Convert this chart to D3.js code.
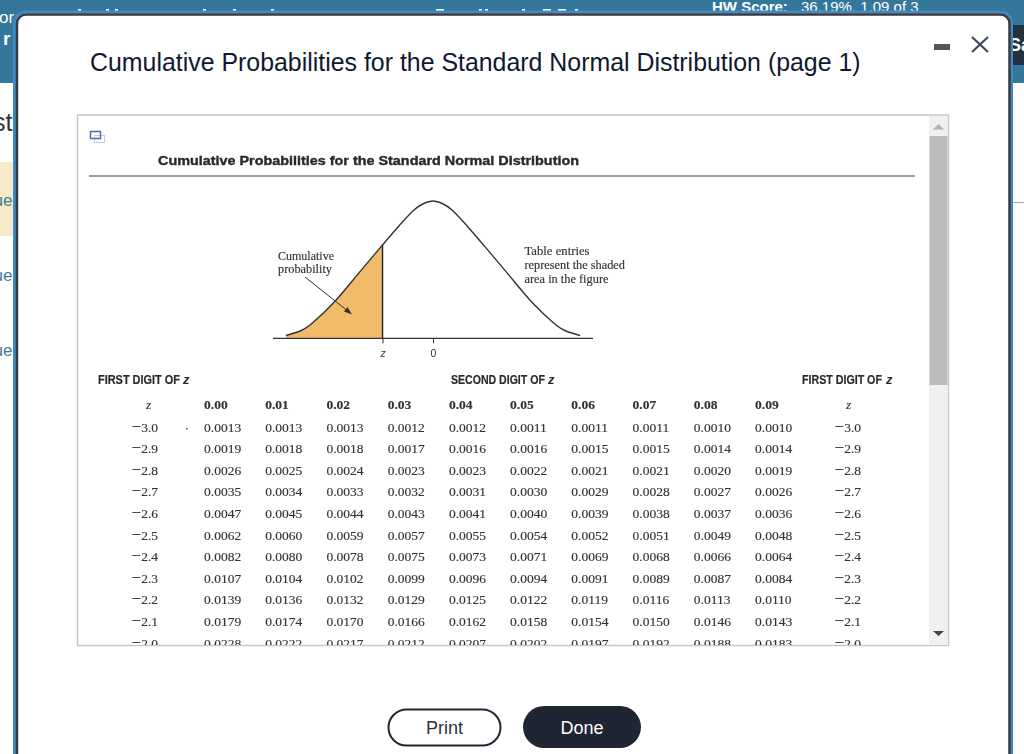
<!DOCTYPE html>
<html>
<head>
<meta charset="utf-8">
<script src="https://cdn.jsdelivr.net/npm/d3@7"></script>
<style>
  html, body { margin: 0; padding: 0; background: #fff; overflow: hidden; }
  svg { display: block; }
  text { font-family: "Liberation Sans", sans-serif; }
  .serif { font-family: "Liberation Serif", serif; fill: #333; stroke: #333; stroke-width: 0.15px; font-size: 13.5px; }
</style>
</head>
<body>
<div id="chart"></div>
<script>
// table values
const secondDigits = ["0.00","0.01","0.02","0.03","0.04","0.05","0.06","0.07","0.08","0.09"];
const firstDigits = ["−3.0","−2.9","−2.8","−2.7","−2.6","−2.5","−2.4","−2.3","−2.2","−2.1","−2.0"];
const probabilities = [
  ["0.0013","0.0013","0.0013","0.0012","0.0012","0.0011","0.0011","0.0011","0.0010","0.0010"],
  ["0.0019","0.0018","0.0018","0.0017","0.0016","0.0016","0.0015","0.0015","0.0014","0.0014"],
  ["0.0026","0.0025","0.0024","0.0023","0.0023","0.0022","0.0021","0.0021","0.0020","0.0019"],
  ["0.0035","0.0034","0.0033","0.0032","0.0031","0.0030","0.0029","0.0028","0.0027","0.0026"],
  ["0.0047","0.0045","0.0044","0.0043","0.0041","0.0040","0.0039","0.0038","0.0037","0.0036"],
  ["0.0062","0.0060","0.0059","0.0057","0.0055","0.0054","0.0052","0.0051","0.0049","0.0048"],
  ["0.0082","0.0080","0.0078","0.0075","0.0073","0.0071","0.0069","0.0068","0.0066","0.0064"],
  ["0.0107","0.0104","0.0102","0.0099","0.0096","0.0094","0.0091","0.0089","0.0087","0.0084"],
  ["0.0139","0.0136","0.0132","0.0129","0.0125","0.0122","0.0119","0.0116","0.0113","0.0110"],
  ["0.0179","0.0174","0.0170","0.0166","0.0162","0.0158","0.0154","0.0150","0.0146","0.0143"],
  ["0.0228","0.0222","0.0217","0.0212","0.0207","0.0202","0.0197","0.0192","0.0188","0.0183"]
];

// bell curve (z, height relative to the peak)
const curveZ = [-3,-2.7,-2.45,-2,-1.55,-1.03,-0.74,-0.4,-0.2,0,0.2,0.4,0.74,1.03,1.55,2,2.45,2.7,3];
const curveH = [0.02,0.055,0.115,0.27,0.46,0.68,0.80,0.93,0.98,1,0.98,0.93,0.80,0.68,0.46,0.27,0.115,0.055,0.02];
const shadedZ = -1.03;
const axisTicks = [-1.03, 0];

const w = 1024, h = 754;
const svg = d3.select("#chart").append("svg").attr("width", w).attr("height", h);
const defs = svg.append("defs");
defs.append("filter").attr("id", "soft").append("feGaussianBlur").attr("stdDeviation", 0.4);
defs.append("clipPath").attr("id", "panelClip").append("rect")
  .attr("x", 78).attr("y", 116).attr("width", 851).attr("height", 529);
defs.append("clipPath").attr("id", "headerClip").append("rect")
  .attr("x", 0).attr("y", 0).attr("width", w).attr("height", 11);

// page behind the dialog
svg.append("rect").attr("width", w).attr("height", 83).attr("fill", "#35779b");
svg.append("rect").attr("y", 162).attr("width", 14).attr("height", 74).attr("fill", "#f6eac7");
svg.append("rect").attr("x", 1012).attr("y", 25).attr("width", 12).attr("height", 40).attr("fill", "#22303f");
svg.append("rect").attr("x", 1012).attr("y", 202).attr("width", 12).attr("height", 1).attr("fill", "#9aa5b5");

const behind = svg.append("g");
behind.append("text").attr("x", -1).attr("y", 23).attr("font-size", 17).attr("fill", "#fff").text("or");
behind.append("text").attr("x", 3).attr("y", 45).attr("font-size", 19).attr("font-weight", "bold").attr("fill", "#fff").text("r");
behind.append("text").attr("x", -7).attr("y", 131).attr("font-size", 25).attr("fill", "#333").text("st");
[206, 281, 356].forEach(y => {
  behind.append("text").attr("x", -6.5).attr("y", y).attr("font-size", 17).attr("fill", "#3f7a9e").text("ue");
});
behind.append("text").attr("x", 1009).attr("y", 51).attr("font-size", 18).attr("font-weight", "bold").attr("fill", "#fff").text("Sa");

const topBar = svg.append("g").attr("clip-path", "url(#headerClip)");
topBar.append("text").attr("x", 712).attr("y", 11.5).attr("font-size", 15).attr("font-weight", "bold").attr("fill", "#fff").text("HW Score:");
topBar.append("text").attr("x", 801).attr("y", 11.5).attr("font-size", 15).attr("fill", "#fff").text("36.19%, 1.09 of 3");
const topBits = [78,106,115,203,233,271,436,479,485,522,543,558,575];
topBar.selectAll("rect.bit").data(topBits).enter().append("rect").attr("class", "bit")
  .attr("x", d => d).attr("y", 9).attr("height", 2)
  .attr("width", d => d === 436 || d === 543 || d === 558 ? 8 : 3).attr("fill", "#fff");

// dialog frame
svg.append("rect").attr("x", 14.5).attr("y", 12).attr("width", 997).attr("height", 760).attr("rx", 11)
  .attr("fill", "#fff").attr("stroke", "#3f8ac4").attr("stroke-width", 3);
svg.append("rect").attr("x", 17).attr("y", 14.5).attr("width", 992.5).attr("height", 760).attr("rx", 9)
  .attr("fill", "#fff").attr("stroke", "#3a3a3c").attr("stroke-width", 2.5);

svg.append("text").attr("x", 90).attr("y", 71).attr("font-size", 24.9).attr("fill", "#10182f")
  .text("Cumulative Probabilities for the Standard Normal Distribution (page 1)");

// minimize + close
svg.append("rect").attr("x", 934).attr("y", 44).attr("width", 16).attr("height", 6).attr("fill", "#555");
svg.append("path").attr("d", "M972,37L988,52M988,37L972,52").attr("stroke", "#3e4a5a").attr("stroke-width", 2.2).attr("fill", "none");

// scroll panel
svg.append("rect").attr("x", 77.5).attr("y", 115).attr("width", 871).attr("height", 530.5)
  .attr("fill", "#fff").attr("stroke", "#c8c8c8").attr("stroke-width", 1.5);
svg.append("rect").attr("x", 929).attr("y", 116).attr("width", 19).attr("height", 529).attr("fill", "#f0f0f0");
svg.append("rect").attr("x", 929.5).attr("y", 136).attr("width", 18).attr("height", 249).attr("fill", "#bcbcbc");
svg.append("path").attr("d", "M933,129.5L938.5,124L944,129.5Z").attr("fill", "#b0b0b0");
svg.append("path").attr("d", "M933,631L938.5,636L944,631Z").attr("fill", "#444");

// little window icon
svg.append("rect").attr("x", 94.5).attr("y", 135.5).attr("width", 10).attr("height", 7).attr("fill", "#fff").attr("stroke", "#c5cbe6");
svg.append("rect").attr("x", 90.5).attr("y", 131.5).attr("width", 10).attr("height", 7).attr("fill", "none").attr("stroke", "#5a68ad").attr("stroke-width", 1.5);

const page = svg.append("g").attr("clip-path", "url(#panelClip)").append("g").attr("filter", "url(#soft)");

page.append("text").attr("x", 158).attr("y", 164.5).attr("font-size", 13.5).attr("font-weight", "bold")
  .attr("fill", "#2a2a2a").attr("stroke", "#2a2a2a").attr("stroke-width", 0.4)
  .attr("textLength", 421).attr("lengthAdjust", "spacingAndGlyphs")
  .text("Cumulative Probabilities for the Standard Normal Distribution");
page.append("line").attr("x1", 89).attr("x2", 915).attr("y1", 176).attr("y2", 176).attr("stroke", "#444").attr("stroke-width", 1.2);

// bell curve
const x = d3.scaleLinear().domain([-3, 3]).range([286, 580]);
const y = d3.scaleLinear().domain([0, 1]).range([338.3, 201]);
const curve = curveZ.map((z, i) => [z, curveH[i]]);
const line = d3.line().x(d => x(d[0])).y(d => y(d[1])).curve(d3.curveNatural);
const area = d3.area().x(d => x(d[0])).y0(y(0)).y1(d => y(d[1])).curve(d3.curveNatural);

defs.append("clipPath").attr("id", "shadeClip").append("rect")
  .attr("x", x(-3)).attr("y", y(1)).attr("width", x(shadedZ) - x(-3)).attr("height", y(0) - y(1));
page.append("path").datum(curve).attr("d", area).attr("fill", "#f2bb6b").attr("clip-path", "url(#shadeClip)");
page.append("path").datum(curve).attr("d", line).attr("fill", "none").attr("stroke", "#333").attr("stroke-width", 1.4);
page.append("line").attr("x1", x(shadedZ)).attr("x2", x(shadedZ)).attr("y1", y(0)).attr("y2", y(curveH[curveZ.indexOf(shadedZ)]))
  .attr("stroke", "#222").attr("stroke-width", 1.4);

const axisG = page.append("g").attr("transform", `translate(0,${y(0)})`)
  .call(d3.axisBottom(x).tickValues(axisTicks).tickSize(5).tickPadding(6).tickFormat(d => d === 0 ? "0" : "z"));
axisG.select(".domain").remove();
axisG.append("line").attr("x1", 273).attr("x2", 593).attr("stroke", "#333").attr("stroke-width", 1.3);
axisG.selectAll(".tick line").attr("stroke", "#333");
axisG.selectAll(".tick text").attr("font-family", "Liberation Serif").attr("font-size", 10.5).attr("fill", "#333")
  .attr("font-style", d => d === 0 ? "normal" : "italic");

// callouts
const addLines = (tx, ys, lines, lens) => lines.forEach((t, i) => {
  page.append("text").attr("class", "serif").attr("x", tx).attr("y", ys[i]).style("font-size", "11.5px")
    .attr("textLength", lens[i]).attr("lengthAdjust", "spacingAndGlyphs").text(t);
});
addLines(278, [260, 273], ["Cumulative", "probability"], [56, 54]);
addLines(524.5, [254.5, 269, 283], ["Table entries", "represent the shaded", "area in the figure"], [65, 100.5, 84]);
page.append("line").attr("x1", 305).attr("y1", 277).attr("x2", 349).attr("y2", 312).attr("stroke", "#333").attr("stroke-width", 1);
page.append("path").attr("d", "M352,314.5L344,311.5L347.5,307Z").attr("fill", "#333");

// table headings, squeezed sideways to the condensed look of the scan
const headings = [[98, "FIRST DIGIT OF", 82, 183], [451, "SECOND DIGIT OF", 94, 548], [802, "FIRST DIGIT OF", 80, 886]];
headings.forEach(d => {
  const t = page.append("text").attr("font-size", 13).attr("font-weight", "bold")
    .attr("fill", "#2a2a2a").attr("stroke", "#2a2a2a").attr("stroke-width", 0.2).text(d[1]);
  const squeeze = d[2] / t.node().getComputedTextLength();
  t.attr("transform", `translate(${d[0]},384) scale(${squeeze},1)`);
  page.append("text").attr("x", d[3]).attr("y", 384).attr("font-size", 13).attr("font-weight", "bold")
    .attr("font-style", "italic").attr("fill", "#2a2a2a").text("z");
});

const col = d3.scalePoint().domain(secondDigits).range([204, 755]);
const row = d3.scalePoint().domain(firstDigits).range([431.5, 647.5]);

page.selectAll("text.head").data(secondDigits).enter().append("text")
  .attr("class", "serif head").attr("x", d => col(d)).attr("y", 409)
  .attr("font-weight", "bold").text(d => d);

[146, 846].forEach(zx => {
  page.append("text").attr("class", "serif").attr("x", zx).attr("y", 409).attr("font-style", "italic").text("z");
});
[158, 861].forEach(rx => {
  const labels = page.selectAll(null).data(firstDigits).enter().append("text")
    .attr("class", "serif").attr("x", rx).attr("y", d => row(d)).attr("text-anchor", "end");
  // the minus in the scan is wider than the font's
  labels.append("tspan").style("font-size", "17px").text(d => d.slice(0, 1));
  labels.append("tspan").text(d => d.slice(1));
});

const rows = page.selectAll("g.row").data(probabilities).enter().append("g").attr("class", "row")
  .attr("transform", (d, i) => `translate(0,${row(firstDigits[i])})`);
rows.selectAll("text").data(d => d).enter().append("text")
  .attr("class", "serif").attr("x", (d, i) => col(secondDigits[i])).text(d => d);

// stray speck in the scan
page.append("rect").attr("x", 186).attr("y", 428).attr("width", 1.5).attr("height", 1.5).attr("fill", "#555");

// buttons
svg.append("rect").attr("x", 388.5).attr("y", 709.5).attr("width", 112).attr("height", 36).attr("rx", 18)
  .attr("fill", "#fff").attr("stroke", "#1f2533").attr("stroke-width", 2);
svg.append("text").attr("x", 444.5).attr("y", 734).attr("text-anchor", "middle").attr("font-size", 18).attr("fill", "#2a3040").text("Print");
svg.append("rect").attr("x", 523).attr("y", 706).attr("width", 118).attr("height", 42).attr("rx", 21).attr("fill", "#1f2533");
svg.append("text").attr("x", 582).attr("y", 734).attr("text-anchor", "middle").attr("font-size", 18).attr("fill", "#fff").text("Done");
</script>
</body>
</html>
